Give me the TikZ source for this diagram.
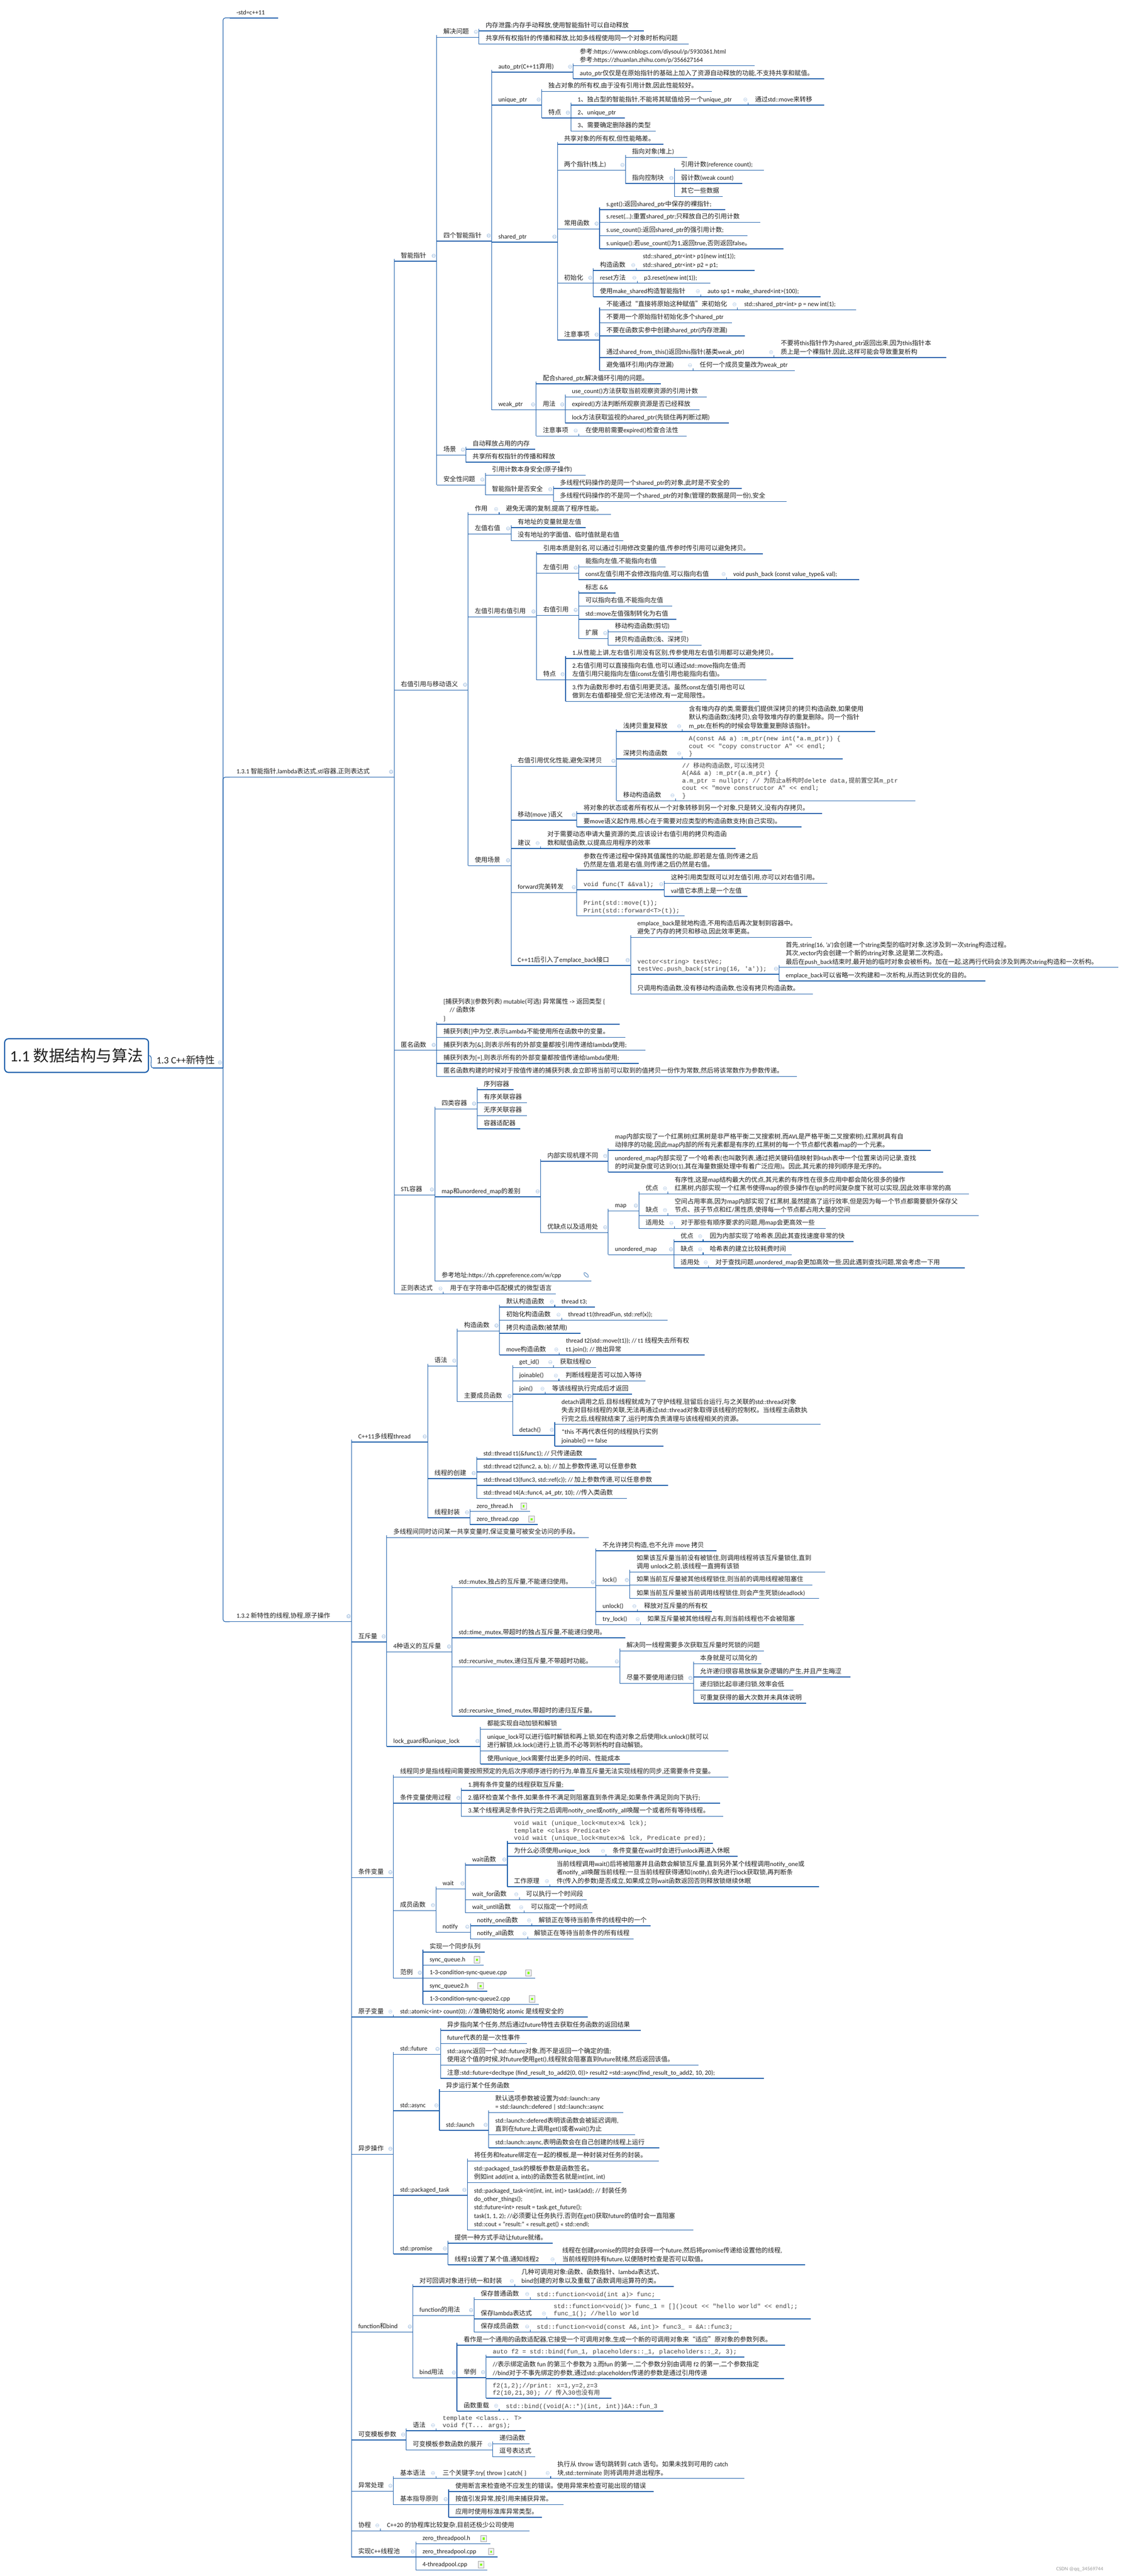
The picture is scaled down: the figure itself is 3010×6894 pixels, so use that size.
\documentclass[tikz,border=0pt]{standalone}
\usepackage{fontspec}
\usetikzlibrary{positioning, calc}

\setmainfont{Carlito}
\newfontfamily\cjkfont{Noto Sans CJK SC}
\newfontfamily\codefont{Liberation Mono}

% Chinese characters take the CJK font, everything else stays as it is
\newcount\cjkchar
\cjkchar="2E80 \loop \XeTeXcharclass\cjkchar=1 \advance\cjkchar by 1 \ifnum\cjkchar<"A000 \repeat
\cjkchar="FF00 \loop \XeTeXcharclass\cjkchar=1 \advance\cjkchar by 1 \ifnum\cjkchar<"FFF0 \repeat
\XeTeXcharclass"201C=1
\XeTeXcharclass"201D=1
\def\backfont{\rmfamily}
\XeTeXinterchartokenstate=1
\XeTeXinterchartoks 0 1 = {\cjkfont}
\XeTeXinterchartoks 4095 1 = {\cjkfont}
\XeTeXinterchartoks 1 0 = {\backfont}
\XeTeXinterchartoks 1 4095 = {\backfont}

\definecolor{mapblue}{HTML}{1B5EAB}
\definecolor{foldblue}{HTML}{B9CFE8}

\tikzset{
    topic/.style={anchor=south west, inner xsep=18pt, inner ysep=2.5pt, outer sep=0pt, text=black!88,
        font=\fontsize{17}{22.6}\rmfamily},
    codetext/.style={font=\def\backfont{\codefont}\fontsize{16.5}{20}\codefont, text=black!75},
    uline/.style={draw=mapblue, line width=2pt},
    link/.style={draw=mapblue, line width=1.6pt, rounded corners=6pt},
    fold/.style={draw=foldblue, line width=1pt},
    fileicon/.style={draw=black!35, fill=black!6, line width=1pt},
}

% node with its underline: [style]{name}{x0}{x1}{y}{text}
\newcommand{\topic}[6][]{%
    \node[topic,#1] (#2) at (#3,#5) {\makebox[\dimexpr#4pt-#3pt-36pt\relax][l]{\begin{tabular}[b]{@{}l@{}}#6\end{tabular}}};
    \draw[uline] (#2.south west) -- (#2.south east);
}
% same, hung on a parent: [style]{parent}{name}{x0}{x1}{y}{text}
\newcommand{\branch}[7][]{%
    \topic[#1]{#3}{#4}{#5}{#6}{#7}
    \draw[link] (#2.south east) |- (#3.south west);
    \draw[fold] ([shift={(-8,-14.5)}]#2.south east) circle (4.5pt);
    \draw[fold] ([shift={(-11,-14.5)}]#2.south east) -- ([shift={(-5,-14.5)}]#2.south east);
}
\newcommand{\attach}[1]{%
    \draw[fileicon] ([shift={(-25,-23)}]#1.south east) rectangle ([shift={(-10,-6)}]#1.south east);
    \fill[green!50!yellow] ([shift={(-20,-17)}]#1.south east) rectangle ([shift={(-15,-11)}]#1.south east);
}

\begin{document}
\begin{tikzpicture}[x=1pt, y=-1pt]
    \useasboundingbox (0,0) rectangle (3010,6894);
    \fill[white] (0,0) rectangle (3010,6894);

    % Root and first levels
    \node[draw=mapblue, line width=3pt, rounded corners=10pt, fill=white, minimum width=385pt, minimum height=90pt,
        font=\fontsize{42}{50}\rmfamily, text=black!88] (root) at (205,2825) {1.1 数据结构与算法};
    \topic[font=\fontsize{26}{32}\rmfamily, inner xsep=9pt, xshift=0pt]{cpp}{410}{615}{2858}{1.3 C++新特性}
    \draw[link] (root.east) to[out=0, in=180] (cpp.south west);
    \branch{cpp}{std}{615}{745}{48}{-std=c++11}
    \branch{cpp}{smart}{615}{1055}{2080}{1.3.1 智能指针,lambda表达式,stl容器,正则表达式}
    \branch{cpp}{conc}{615}{941}{4340}{1.3.2 新特性的线程,协程,原子操作}

    % Smart pointers
    \branch{smart}{ptr}{1055}{1169}{699}{智能指针}
    \branch{ptr}{solve}{1169}{1282}{100}{解决问题}
    \branch{solve}{solveA}{1282}{1724}{83}{内存泄露:内存手动释放,使用智能指针可以自动释放}
    \branch{solve}{solveB}{1282}{1843}{118}{共享所有权指针的传播和释放,比如多线程使用同一个对象时析构问题}
    \branch{ptr}{four}{1169}{1316}{645}{四个智能指针}
    \branch{four}{autop}{1316}{1534}{193}{auto\_ptr(C++11弃用)}
    \branch{autop}{autoA}{1534}{2020}{176}{参考:https://www.cnblogs.com/diysoul/p/5930361.html\\参考:https://zhuanlan.zhihu.com/p/356627164}
    \branch{autop}{autoB}{1534}{2206}{211}{auto\_ptr仅仅是在原始指针的基础上加入了资源自动释放的功能,不支持共享和赋值。}
    \branch{four}{uniq}{1316}{1450}{281}{unique\_ptr}
    \branch{uniq}{uniqA}{1450}{1905}{245}{独占对象的所有权,由于没有引用计数,因此性能较好。}
    \branch{uniq}{uniqB}{1450}{1528}{316}{特点}
    \branch{uniqB}{uniqC}{1528}{2003}{281}{1、独占型的智能指针,不能将其赋值给另一个unique\_ptr}
    \branch{uniqC}{uniqD}{2003}{2206}{281}{通过std::move来转移}
    \branch{uniqB}{uniqE}{1528}{1672}{316}{2、unique\_ptr}
    \branch{uniqB}{uniqF}{1528}{1755}{351}{3、需要确定删除器的类型}
    \branch{four}{shared}{1316}{1492}{648}{shared\_ptr}
    \branch{shared}{shA}{1492}{1776}{386}{共享对象的所有权,但性能略差。}
    \branch{shared}{shB}{1492}{1674}{456}{两个指针(栈上)}
    \branch{shB}{shC}{1674}{1839}{421}{指向对象(堆上)}
    \branch{shB}{shD}{1674}{1805}{491}{指向控制块}
    \branch{shD}{shE}{1805}{2045}{456}{引用计数(reference count);}
    \branch{shD}{shF}{1805}{1987}{491}{弱计数(weak count)}
    \branch{shD}{shG}{1805}{1935}{526}{其它一些数据}
    \branch{shared}{func}{1492}{1605}{613}{常用函数}
    \branch{func}{funcA}{1605}{1941}{561}{s.get():返回shared\_ptr中保存的裸指针;}
    \branch{func}{funcB}{1605}{2035}{595}{s.reset(…):重置shared\_ptr;只释放自己的引用计数}
    \branch{func}{funcC}{1605}{2001}{631}{s.use\_count():返回shared\_ptr的强引用计数;}
    \branch{func}{funcD}{1605}{2097}{666}{s.unique():若use\_count()为1,返回true,否则返回false。}
    \branch{shared}{init}{1492}{1588}{758}{初始化}
    \branch{init}{initA}{1588}{1703}{724}{构造函数}
    \branch{initA}{initB}{1703}{2020}{724}{std::shared\_ptr<int> p1(new int(1));\\std::shared\_ptr<int> p2 = p1;}
    \branch{init}{initC}{1588}{1706}{758}{reset方法}
    \branch{initC}{initD}{1706}{1901}{758}{p3.reset(new int(1));}
    \branch{init}{initE}{1588}{1876}{794}{使用make\_shared构造智能指针}
    \branch{initE}{initF}{1876}{2197}{794}{auto sp1 = make\_shared<int>(100);}
    \branch{shared}{note}{1492}{1605}{910}{注意事项}
    \branch{note}{noteA}{1605}{1974}{829}{不能通过“直接将原始这种赋值”来初始化}
    \branch{noteA}{noteB}{1974}{2292}{829}{std::shared\_ptr<int> p = new int(1);}
    \branch{note}{noteC}{1605}{1959}{864}{不要用一个原始指针初始化多个shared\_ptr}
    \branch{note}{noteD}{1605}{1994}{899}{不要在函数实参中创建shared\_ptr(内存泄漏)}
    \branch{note}{noteE}{1605}{2072}{957}{通过shared\_from\_this()返回this指针(基类weak\_ptr)}
    \branch{noteE}{noteF}{2072}{2533}{957}{不要将this指针作为shared\_ptr返回出来,因为this指针本\\质上是一个裸指针,因此,这样可能会导致重复析构}
    \branch{note}{noteG}{1605}{1855}{992}{避免循环引用(内存泄漏)}
    \branch{noteG}{noteH}{1855}{2128}{992}{任何一个成员变量改为weak\_ptr}
    \branch{four}{weak}{1316}{1435}{1097}{weak\_ptr}
    \branch{weak}{weakA}{1435}{1769}{1027}{配合shared\_ptr,解决循环引用的问题。}
    \branch{weak}{weakB}{1435}{1513}{1097}{用法}
    \branch{weakB}{weakC}{1513}{1892}{1062}{use\_count()方法获取当前观察资源的引用计数}
    \branch{weakB}{weakD}{1513}{1872}{1097}{expired()方法判断所观察资源是否已经释放}
    \branch{weakB}{weakE}{1513}{1951}{1132}{lock方法获取监视的shared\_ptr(先锁住再判断过期)}
    \branch{weak}{weakF}{1435}{1549}{1167}{注意事项}
    \branch{weakF}{weakG}{1549}{1838}{1167}{在使用前需要expired()检查合法性}
    \branch{ptr}{scene}{1169}{1247}{1218}{场景}
    \branch{scene}{sceneA}{1247}{1432}{1202}{自动释放占用的内存}
    \branch{scene}{sceneB}{1247}{1499}{1237}{共享所有权指针的传播和释放}
    \branch{ptr}{safe}{1169}{1299}{1298}{安全性问题}
    \branch{safe}{safeA}{1299}{1567}{1272}{引用计数本身安全(原子操作)}
    \branch{safe}{safeB}{1299}{1481}{1324}{智能指针是否安全}
    \branch{safeB}{safeC}{1481}{1986}{1307}{多线程代码操作的是同一个shared\_ptr的对象,此时是不安全的}
    \branch{safeB}{safeD}{1481}{2105}{1342}{多线程代码操作的不是同一个shared\_ptr的对象(管理的数据是同一份),安全}

    % Rvalue references and move
    \branch{smart}{rval}{1055}{1253}{1847}{右值引用与移动语义}
    \branch{rval}{use}{1253}{1336}{1377}{作用}
    \branch{use}{useA}{1336}{1635}{1377}{避免无谓的复制,提高了程序性能。}
    \branch{rval}{lr}{1253}{1368}{1429}{左值右值}
    \branch{lr}{lrA}{1368}{1567}{1412}{有地址的变量就是左值}
    \branch{lr}{lrB}{1368}{1669}{1447}{没有地址的字面值、临时值就是右值}
    \branch{rval}{ref}{1253}{1436}{1651}{左值引用右值引用}
    \branch{ref}{refA}{1436}{2042}{1482}{引用本质是别名,可以通过引用修改变量的值,传参时传引用可以避免拷贝。}
    \branch{ref}{lref}{1436}{1549}{1534}{左值引用}
    \branch{lref}{lrefA}{1549}{1782}{1517}{能指向左值,不能指向右值}
    \branch{lref}{lrefB}{1549}{1945}{1551}{const左值引用不会修改指向值,可以指向右值}
    \branch{lrefB}{lrefC}{1945}{2300}{1551}{void push\_back (const value\_type\& val);}
    \branch{ref}{rref}{1436}{1549}{1647}{右值引用}
    \branch{rref}{rrefA}{1549}{1647}{1587}{标志 \&\&}
    \branch{rref}{rrefB}{1549}{1799}{1622}{可以指向右值,不能指向左值}
    \branch{rref}{rrefC}{1549}{1810}{1657}{std::move左值强制转化为右值}
    \branch{rref}{rrefD}{1549}{1628}{1709}{扩展}
    \branch{rrefD}{rrefE}{1628}{1827}{1691}{移动构造函数(剪切)}
    \branch{rrefD}{rrefF}{1628}{1878}{1727}{拷贝构造函数(浅、深拷贝)}
    \branch{ref}{trait}{1436}{1514}{1819}{特点}
    \branch{trait}{traitA}{1514}{2124}{1762}{1.从性能上讲,左右值引用没有区别,传参使用左右值引用都可以避免拷贝。}
    \branch{trait}{traitB}{1514}{2051}{1819}{2.右值引用可以直接指向右值,也可以通过std::move指向左值;而\\左值引用只能指向左值(const左值引用也能指向右值)。}
    \branch{trait}{traitC}{1514}{2032}{1877}{3.作为函数形参时,右值引用更灵活。虽然const左值引用也可以\\做到左右值都接受,但它无法修改,有一定局限性。}
    \branch{rval}{where}{1253}{1368}{2317}{使用场景}
    \branch{where}{opt}{1368}{1650}{2051}{右值引用优化性能,避免深拷贝}
    \branch{opt}{optA}{1650}{1826}{1958}{浅拷贝重复释放}
    \branch{optA}{optB}{1826}{2342}{1958}{含有堆内存的类,需要我们提供深拷贝的拷贝构造函数,如果使用\\默认构造函数(浅拷贝),会导致堆内存的重复删除。同一个指针\\m\_ptr,在析构的时候会导致重复删除该指针。}
    \branch{opt}{optC}{1650}{1826}{2031}{深拷贝构造函数}
    \branch[codetext]{optC}{optD}{1826}{2255}{2031}{A(const A\& a) :m\_ptr(new int(*a.m\_ptr)) \{\\cout << "copy constructor A" << endl;\\\}}
    \branch{opt}{optE}{1650}{1808}{2143}{移动构造函数}
    \branch[codetext]{optE}{optF}{1808}{2450}{2143}{// 移动构造函数,可以浅拷贝\\A(A\&\& a) :m\_ptr(a.m\_ptr) \{\\a.m\_ptr = nullptr; // 为防止a析构时delete data,提前置空其m\_ptr\\cout << "move constructor A" << endl;\\\}}
    \branch{where}{move}{1368}{1544}{2195}{移动(move )语义}
    \branch{move}{moveA}{1544}{2201}{2177}{将对象的状态或者所有权从一个对象转移到另一个对象,只是转义,没有内存拷贝。}
    \branch{move}{moveB}{1544}{2146}{2213}{要move语义起作用,核心在于需要对应类型的构造函数支持(自己实现)。}
    \branch{where}{advice}{1368}{1447}{2271}{建议}
    \branch{advice}{adviceA}{1447}{1969}{2271}{对于需要动态申请大量资源的类,应该设计右值引用的拷贝构造函\\数和赋值函数,以提高应用程序的效率}
    \branch{where}{fwd}{1368}{1544}{2389}{forward完美转发}
    \branch{fwd}{fwdA}{1544}{2065}{2329}{参数在传递过程中保持其值属性的功能,即若是左值,则传递之后\\仍然是左值,若是右值,则传递之后仍然是右值。}
    \branch[codetext]{fwd}{fwdB}{1544}{1778}{2381}{void func(T \&\&val);}
    \branch{fwdB}{fwdC}{1778}{2215}{2364}{这种引用类型既可以对左值引用,亦可以对右值引用。}
    \branch{fwdB}{fwdD}{1778}{2001}{2399}{val值它本质上是一个左值}
    \branch[codetext]{fwd}{fwdE}{1544}{1833}{2451}{Print(std::move(t));\\Print(std::forward<T>(t));}
    \branch{where}{emp}{1368}{1688}{2584}{C++11后引入了emplace\_back接口}
    \branch{emp}{empA}{1688}{2173}{2509}{emplace\_back是就地构造,不用构造后再次复制到容器中。\\避免了内存的拷贝和移动,因此效率更高。}
    \branch[codetext]{emp}{empB}{1688}{2085}{2607}{vector<string> testVec;\\testVec.push\_back(string(16, 'a'));}
    \branch{empB}{empC}{2085}{2993}{2589}{首先,string(16, 'a')会创建一个string类型的临时对象,这涉及到一次string构造过程。\\其次,vector内会创建一个新的string对象,这是第二次构造。\\最后在push\_back结束时,最开始的临时对象会被析构。加在一起,这两行代码会涉及到两次string构造和一次析构。}
    \branch{empB}{empD}{2085}{2637}{2625}{emplace\_back可以省略一次构建和一次析构,从而达到优化的目的。}
    \branch{emp}{empE}{1688}{2176}{2660}{只调用构造函数,没有移动构造函数,也没有拷贝构造函数。}

    % Lambda
    \branch{smart}{lam}{1055}{1169}{2811}{匿名函数}
    \branch{lam}{lamA}{1169}{1659}{2741}{[捕获列表](参数列表) mutable(可选) 异常属性 -> 返回类型 \{\\\quad // 函数体\\\}}
    \branch{lam}{lamB}{1169}{1674}{2776}{捕获列表[]中为空,表示Lambda不能使用所在函数中的变量。}
    \branch{lam}{lamC}{1169}{1728}{2811}{捕获列表为[\&],则表示所有的外部变量都按引用传递给lambda使用;}
    \branch{lam}{lamD}{1169}{1710}{2846}{捕获列表为[=],则表示所有的外部变量都按值传递给lambda使用;}
    \branch{lam}{lamE}{1169}{2133}{2881}{匿名函数构建的时候对于按值传递的捕获列表,会立即将当前可以取到的值拷贝一份作为常数,然后将该常数作为参数传递。}

    % STL
    \branch{smart}{stl}{1055}{1164}{3198}{STL容器}
    \branch{stl}{kinds}{1164}{1277}{2968}{四类容器}
    \branch{kinds}{kindA}{1277}{1374}{2916}{序列容器}
    \branch{kinds}{kindB}{1277}{1410}{2951}{有序关联容器}
    \branch{kinds}{kindC}{1277}{1410}{2986}{无序关联容器}
    \branch{kinds}{kindD}{1277}{1392}{3021}{容器适配器}
    \branch{stl}{diff}{1164}{1447}{3203}{map和unordered\_map的差别}
    \branch{diff}{impl}{1447}{1628}{3108}{内部实现机理不同}
    \branch{impl}{implA}{1628}{2492}{3079}{map内部实现了一个红黑树(红黑树是非严格平衡二叉搜索树,而AVL是严格平衡二叉搜索树),红黑树具有自\\动排序的功能,因此map内部的所有元素都是有序的,红黑树的每一个节点都代表着map的一个元素。}
    \branch{impl}{implB}{1628}{2524}{3137}{unordered\_map内部实现了一个哈希表(也叫散列表,通过把关键码值映射到Hash表中一个位置来访问记录,查找\\的时间复杂度可达到O(1),其在海量数据处理中有着广泛应用)。因此,其元素的排列顺序是无序的。}
    \branch{diff}{pros}{1447}{1628}{3299}{优缺点以及适用处}
    \branch{pros}{mapp}{1628}{1710}{3241}{map}
    \branch{mapp}{mapA}{1710}{1788}{3195}{优点}
    \branch{mapA}{mapB}{1788}{2594}{3195}{有序性,这是map结构最大的优点,其元素的有序性在很多应用中都会简化很多的操作\\红黑树,内部实现一个红黑书使得map的很多操作在lgn的时间复杂度下就可以实现,因此效率非常的高}
    \branch{mapp}{mapC}{1710}{1788}{3253}{缺点}
    \branch{mapC}{mapD}{1788}{2619}{3253}{空间占用率高,因为map内部实现了红黑树,虽然提高了运行效率,但是因为每一个节点都需要额外保存父\\节点、孩子节点和红/黑性质,使得每一个节点都占用大量的空间}
    \branch{mapp}{mapE}{1710}{1805}{3288}{适用处}
    \branch{mapE}{mapF}{1805}{2210}{3288}{对于那些有顺序要求的问题,用map会更高效一些}
    \branch{pros}{umap}{1628}{1804}{3358}{unordered\_map}
    \branch{umap}{umapA}{1804}{1882}{3323}{优点}
    \branch{umapA}{umapB}{1882}{2285}{3323}{因为内部实现了哈希表,因此其查找速度非常的快}
    \branch{umap}{umapC}{1804}{1882}{3358}{缺点}
    \branch{umapC}{umapD}{1882}{2119}{3358}{哈希表的建立比较耗费时间}
    \branch{umap}{umapE}{1804}{1897}{3393}{适用处}
    \branch{umapE}{umapF}{1897}{2583}{3393}{对于查找问题,unordered\_map会更加高效一些,因此遇到查找问题,常会考虑一下用}
    \branch{stl}{cppref}{1164}{1583}{3428}{参考地址:https://zh.cppreference.com/w/cpp}
    \draw[mapblue!70, line width=1.5pt, rotate around={-45:(1569,3412)}] (1569,3412) ellipse (8pt and 3.5pt);
    \branch{smart}{regex}{1055}{1187}{3463}{正则表达式}
    \branch{regex}{regexA}{1187}{1488}{3463}{用于在字符串中匹配模式的微型语言}

    % Threads
    \branch{conc}{thr}{941}{1145}{3859}{C++11多线程thread}
    \branch{thr}{syn}{1145}{1224}{3656}{语法}
    \branch{syn}{ctor}{1224}{1337}{3562}{构造函数}
    \branch{ctor}{ctorA}{1337}{1485}{3498}{默认构造函数}
    \branch{ctorA}{ctorB}{1485}{1592}{3498}{thread t3;}
    \branch{ctor}{ctorC}{1337}{1503}{3533}{初始化构造函数}
    \branch{ctorC}{ctorD}{1503}{1787}{3533}{thread t1(threadFun, std::ref(x));}
    \branch{ctor}{ctorE}{1337}{1554}{3568}{拷贝构造函数(被禁用)}
    \branch{ctor}{ctorF}{1337}{1497}{3626}{move构造函数}
    \branch{ctorF}{ctorG}{1497}{1886}{3626}{thread t2(std::move(t1)); // t1 线程失去所有权\\t1.join(); // 抛出异常}
    \branch{syn}{memb}{1224}{1372}{3751}{主要成员函数}
    \branch{memb}{membA}{1372}{1481}{3660}{get\_id()}
    \branch{membA}{membB}{1481}{1595}{3660}{获取线程ID}
    \branch{memb}{membC}{1372}{1496}{3696}{joinable()}
    \branch{membC}{membD}{1496}{1728}{3696}{判断线程是否可以加入等待}
    \branch{memb}{membE}{1372}{1460}{3731}{join()}
    \branch{membE}{membF}{1460}{1692}{3731}{等该线程执行完成后才返回}
    \branch{memb}{detach}{1372}{1485}{3841}{detach()}
    \branch{detach}{detachA}{1485}{2197}{3812}{detach调用之后,目标线程就成为了守护线程,驻留后台运行,与之关联的std::thread对象\\失去对目标线程的关联,无法再通过std::thread对象取得该线程的控制权。当线程主函数执\\行完之后,线程就结束了,运行时库负责清理与该线程相关的资源。}
    \branch{detach}{detachB}{1485}{1776}{3870}{*this 不再代表任何的线程执行实例\\joinable() == false}
    \branch{thr}{mk}{1145}{1276}{3957}{线程的创建}
    \branch{mk}{mkA}{1276}{1596}{3905}{std::thread t1(\&func1); // 只传递函数}
    \branch{mk}{mkB}{1276}{1742}{3939}{std::thread t2(func2, a, b); // 加上参数传递,可以任意参数}
    \branch{mk}{mkC}{1276}{1788}{3975}{std::thread t3(func3, std::ref(c)); // 加上参数传递,可以任意参数}
    \branch{mk}{mkD}{1276}{1678}{4010}{std::thread t4(A::func4, a4\_ptr, 10); //传入类函数}
    \branch{thr}{wrap}{1145}{1258}{4062}{线程封装}
    \branch{wrap}{wrapA}{1258}{1419}{4045}{zero\_thread.h}
    \attach{wrapA}
    \branch{wrap}{wrapB}{1258}{1440}{4080}{zero\_thread.cpp}
    \attach{wrapB}

    % Mutex
    \branch{conc}{mtx}{941}{1035}{4394}{互斥量}
    \branch{mtx}{mtxA}{1035}{1576}{4115}{多线程间同时访问某一共享变量时,保证变量可被安全访问的手段。}
    \branch{mtx}{kind4}{1035}{1210}{4421}{4种语义的互斥量}
    \branch{kind4}{plain}{1210}{1595}{4249}{std::mutex,独占的互斥量,不能递归使用。}
    \branch{plain}{plainA}{1595}{1918}{4150}{不允许拷贝构造,也不允许 move 拷贝}
    \branch{plain}{lock}{1595}{1686}{4243}{lock()}
    \branch{lock}{lockA}{1686}{2209}{4207}{如果该互斥量当前没有被锁住,则调用线程将该互斥量锁住,直到\\调用 unlock之前,该线程一直拥有该锁}
    \branch{lock}{lockB}{1686}{2174}{4242}{如果当前互斥量被其他线程锁住,则当前的调用线程被阻塞住}
    \branch{lock}{lockC}{1686}{2192}{4278}{如果当前互斥量被当前调用线程锁住,则会产生死锁(deadlock)}
    \branch{plain}{unlock}{1595}{1706}{4313}{unlock()}
    \branch{unlock}{unlockA}{1706}{1905}{4313}{释放对互斥量的所有权}
    \branch{plain}{trylock}{1595}{1715}{4348}{try\_lock()}
    \branch{trylock}{trylockA}{1715}{2151}{4348}{如果互斥量被其他线程占有,则当前线程也不会被阻塞}
    \branch{kind4}{timed}{1210}{1674}{4383}{std::time\_mutex,带超时的独占互斥量,不能递归使用。}
    \branch{kind4}{recur}{1210}{1659}{4461}{std::recursive\_mutex,递归互斥量,不带超时功能。}
    \branch{recur}{recurA}{1659}{2045}{4418}{解决同一线程需要多次获取互斥量时死锁的问题}
    \branch{recur}{recurB}{1659}{1856}{4505}{尽量不要使用递归锁}
    \branch{recurB}{recurC}{1856}{2038}{4453}{本身就是可以简化的}
    \branch{recurB}{recurD}{1856}{2277}{4488}{允许递归很容易放纵复杂逻辑的产生,并且产生晦涩}
    \branch{recurB}{recurE}{1856}{2124}{4523}{递归锁比起非递归锁,效率会低}
    \branch{recurB}{recurF}{1856}{2158}{4558}{可重复获得的最大次数并未具体说明}
    \branch{kind4}{rtimed}{1210}{1647}{4593}{std::recursive\_timed\_mutex,带超时的递归互斥量。}
    \branch{mtx}{guard}{1035}{1286}{4674}{lock\_guard和unique\_lock}
    \branch{guard}{guardA}{1286}{1503}{4628}{都能实现自动加锁和解锁}
    \branch{guard}{guardB}{1286}{1949}{4686}{unique\_lock可以进行临时解锁和再上锁,如在构造对象之后使用lck.unlock()就可以\\进行解锁,lck.lock()进行上锁,而不必等到析构时自动解锁。}
    \branch{guard}{guardC}{1286}{1686}{4721}{使用unique\_lock需要付出更多的时间、性能成本}

    % Condition variables
    \branch{conc}{cond}{941}{1053}{5025}{条件变量}
    \branch{cond}{condA}{1053}{1950}{4756}{线程同步是指线程间需要按照预定的先后次序顺序进行的行为,单靠互斥量无法实现线程的同步,还需要条件变量。}
    \branch{cond}{steps}{1053}{1235}{4826}{条件变量使用过程}
    \branch{steps}{stepA}{1235}{1537}{4791}{1.拥有条件变量的线程获取互斥量;}
    \branch{steps}{stepB}{1235}{1928}{4826}{2.循环检查某个条件,如果条件不满足则阻塞直到条件满足;如果条件满足则向下执行;}
    \branch{steps}{stepC}{1235}{1936}{4861}{3.某个线程满足条件执行完之后调用notify\_one或notify\_all唤醒一个或者所有等待线程。}
    \branch{cond}{cmem}{1053}{1167}{5113}{成员函数}
    \branch{cmem}{wait}{1167}{1246}{5055}{wait}
    \branch{wait}{waitf}{1246}{1358}{4991}{wait函数}
    \branch[codetext]{waitf}{waitA}{1358}{1908}{4933}{void wait (unique\_lock<mutex>\& lck);\\template <class Predicate>\\void wait (unique\_lock<mutex>\& lck, Predicate pred);}
    \branch{waitf}{waitB}{1358}{1622}{4968}{为什么必须使用unique\_lock}
    \branch{waitB}{waitC}{1622}{1974}{4968}{条件变量在wait时会进行unlock再进入休眠}
    \branch{waitf}{waitD}{1358}{1472}{5049}{工作原理}
    \branch{waitD}{waitE}{1472}{2192}{5049}{当前线程调用wait()后将被阻塞并且函数会解锁互斥量,直到另外某个线程调用notify\_one或\\者notify\_all唤醒当前线程;一旦当前线程获得通知(notify),会先进行lock获取锁,再判断条\\件(传入的参数)是否成立,如果成立则wait函数返回否则释放锁继续休眠}
    \branch{wait}{waitF}{1246}{1390}{5084}{wait\_for函数}
    \branch{waitF}{waitG}{1390}{1570}{5084}{可以执行一个时间段}
    \branch{wait}{waitH}{1246}{1403}{5119}{wait\_until函数}
    \branch{waitH}{waitI}{1403}{1585}{5119}{可以指定一个时间点}
    \branch{cmem}{notify}{1167}{1259}{5171}{notify}
    \branch{notify}{notifyA}{1259}{1424}{5154}{notify\_one函数}
    \branch{notifyA}{notifyB}{1424}{1742}{5154}{解锁正在等待当前条件的线程中的一个}
    \branch{notify}{notifyC}{1259}{1412}{5189}{notify\_all函数}
    \branch{notifyC}{notifyD}{1412}{1696}{5189}{解锁正在等待当前条件的所有线程}
    \branch{cond}{demo}{1053}{1132}{5294}{范例}
    \branch{demo}{demoA}{1132}{1297}{5224}{实现一个同步队列}
    \branch{demo}{demoB}{1132}{1294}{5259}{sync\_queue.h}
    \attach{demoB}
    \branch{demo}{demoC}{1132}{1432}{5294}{1-3-condition-sync-queue.cpp}
    \attach{demoC}
    \branch{demo}{demoD}{1132}{1304}{5329}{sync\_queue2.h}
    \attach{demoD}
    \branch{demo}{demoE}{1132}{1442}{5364}{1-3-condition-sync-queue2.cpp}
    \attach{demoE}

    % Atomic and async
    \branch{conc}{atom}{941}{1053}{5398}{原子变量}
    \branch{atom}{atomA}{1053}{1573}{5398}{std::atomic<int> count(0); //准确初始化 atomic 是线程安全的}
    \branch{conc}{asy}{941}{1053}{5765}{异步操作}
    \branch{asy}{fut}{1053}{1179}{5498}{std::future}
    \branch{fut}{futA}{1179}{1715}{5434}{异步指向某个任务,然后通过future特性去获取任务函数的返回结果}
    \branch{fut}{futB}{1179}{1410}{5469}{future代表的是一次性事件}
    \branch{fut}{futC}{1179}{1870}{5527}{std::async返回一个std::future对象,而不是返回一个确定的值;\\使用这个值的时候,对future使用get(),线程就会阻塞直到future就绪,然后返回该值。}
    \branch{fut}{futD}{1179}{2045}{5562}{注意:std::future<decltype (find\_result\_to\_add2(0, 0))> result2 =std::async(find\_result\_to\_add2, 10, 20);}
    \branch{asy}{stdasync}{1053}{1176}{5649}{std::async}
    \branch{stdasync}{asyncA}{1176}{1376}{5597}{异步运行某个任务函数}
    \branch{stdasync}{launch}{1176}{1308}{5701}{std::launch}
    \branch{launch}{launchA}{1308}{1668}{5654}{默认选项参数被设置为std::launch::any\\= std::launch::defered | std::launch::async}
    \branch{launch}{launchB}{1308}{1700}{5713}{std::launch::defered表明该函数会被延迟调用,\\直到在future上调用get()或者wait()为止}
    \branch{launch}{launchC}{1308}{1765}{5748}{std::launch::async,表明函数会在自己创建的线程上运行}
    \branch{asy}{task}{1053}{1251}{5875}{std::packaged\_task}
    \branch{task}{taskA}{1251}{1763}{5783}{将任务和feature绑定在一起的模板,是一种封装对任务的封装。}
    \branch{task}{taskB}{1251}{1663}{5841}{std::packaged\_task的模板参数是函数签名。\\例如int add(int a, intb)的函数签名就是int(int, int)}
    \branch{task}{taskC}{1251}{1856}{5968}{std::packaged\_task<int(int, int, int)> task(add); // 封装任务\\do\_other\_things();\\std::future<int> result = task.get\_future();\\task(1, 1, 2); //必须要让任务执行,否则在get()获取future的值时会一直阻塞\\std::cout << "result:" << result.get() << std::endl;}
    \branch{asy}{prom}{1053}{1199}{6032}{std::promise}
    \branch{prom}{promA}{1199}{1479}{6003}{提供一种方式手动让future就绪。}
    \branch{prom}{promB}{1199}{1487}{6061}{线程1设置了某个值,通知线程2}
    \branch{promB}{promC}{1487}{2155}{6061}{线程在创建promise的同时会获得一个future,然后将promise传递给设置他的线程,\\当前线程则持有future,以便随时检查是否可以取值。}

    % function and bind
    \branch{conc}{fb}{941}{1105}{6241}{function和bind}
    \branch{fb}{fbA}{1105}{1378}{6119}{对可回调对象进行统一和封装}
    \branch{fbA}{fbB}{1378}{1803}{6119}{几种可调用对象:函数、函数指针、lambda表达式、\\bind创建的对象以及重载了函数调用运算符的类。}
    \branch{fb}{fn}{1105}{1269}{6197}{function的用法}
    \branch{fn}{fnA}{1269}{1419}{6154}{保存普通函数}
    \branch[codetext]{fnA}{fnB}{1419}{1767}{6154}{std::function<void(int a)> func;}
    \branch{fn}{fnC}{1269}{1464}{6206}{保存lambda表达式}
    \branch[codetext]{fnC}{fnD}{1464}{2170}{6206}{std::function<void()> func\_1 = [](){cout << "hello world" << endl;};\\func\_1(); //hello world}
    \branch{fn}{fnE}{1269}{1419}{6241}{保存成员函数}
    \branch[codetext]{fnE}{fnF}{1419}{1977}{6241}{std::function<void(const A\&,int)> func3\_ = \&A::func3;}
    \branch{fb}{bnd}{1105}{1223}{6364}{bind用法}
    \branch{bnd}{bndA}{1223}{2101}{6276}{看作是一个通用的函数适配器,它接受一个可调用对象,生成一个新的可调用对象来“适应”原对象的参数列表。}
    \branch{bnd}{bndB}{1223}{1301}{6363}{举例}
    \branch[codetext]{bndB}{bndC}{1301}{1992}{6308}{auto f2 = std::bind(fun\_1, placeholders::\_1, placeholders::\_2, 3);}
    \branch{bndB}{bndD}{1301}{2099}{6366}{//表示绑定函数 fun 的第三个参数为 3,而fun 的第一,二个参数分别由调用 f2 的第一,二个参数指定\\//bind对于不事先绑定的参数,通过std::placeholders传递的参数是通过引用传递}
    \branch[codetext]{bndB}{bndE}{1301}{1637}{6418}{f2(1,2);//print: x=1,y=2,z=3\\f2(10,21,30); // 传入30也没有用}
    \branch{bnd}{bndF}{1223}{1336}{6453}{函数重载}
    \branch[codetext]{bndF}{bndG}{1336}{1776}{6453}{std::bind((void(A::*)(int, int))\&A::fun\_3}

    % Templates, exceptions, coroutines, pool
    \branch{conc}{vart}{941}{1087}{6530}{可变模板参数}
    \branch{vart}{vartA}{1087}{1167}{6505}{语法}
    \branch[codetext]{vartA}{vartB}{1167}{1406}{6505}{template <class... T>\\void f(T... args);}
    \branch{vart}{vartC}{1087}{1319}{6557}{可变模板参数函数的展开}
    \branch{vartC}{vartD}{1319}{1418}{6540}{递归函数}
    \branch{vartC}{vartE}{1319}{1433}{6575}{逗号表达式}
    \branch{conc}{exc}{941}{1053}{6667}{异常处理}
    \branch{exc}{excA}{1053}{1167}{6633}{基本语法}
    \branch{excA}{excB}{1167}{1474}{6633}{三个关键字:try\{ throw \} catch\{ \}}
    \branch{excB}{excC}{1474}{1992}{6633}{执行从 throw 语句跳转到 catch 语句。如果未找到可用的 catch\\块,std::terminate 则将调用并退出程序。}
    \branch{exc}{excD}{1053}{1201}{6703}{基本指导原则}
    \branch{excD}{excE}{1201}{1750}{6668}{使用断言来检查绝不应发生的错误。使用异常来检查可能出现的错误}
    \branch{excD}{excF}{1201}{1508}{6703}{按值引发异常,按引用来捕获异常。}
    \branch{excD}{excG}{1201}{1451}{6737}{应用时使用标准库异常类型。}
    \branch{conc}{coro}{941}{1018}{6773}{协程}
    \branch{coro}{coroA}{1018}{1418}{6773}{C++20 的协程库比较复杂,目前还极少公司使用}
    \branch{conc}{pool}{941}{1113}{6843}{实现C++线程池}
    \branch{pool}{poolA}{1113}{1312}{6808}{zero\_threadpool.h}
    \attach{poolA}
    \branch{pool}{poolB}{1113}{1332}{6843}{zero\_threadpool.cpp}
    \attach{poolB}
    \branch{pool}{poolC}{1113}{1305}{6878}{4-threadpool.cpp}
    \attach{poolC}

    \node[anchor=west, inner sep=0pt, text=black!40, font=\fontsize{14}{16}\rmfamily] (csdn) at (2827,6876) {CSDN @qq\_34569744};
\end{tikzpicture}
\end{document}
